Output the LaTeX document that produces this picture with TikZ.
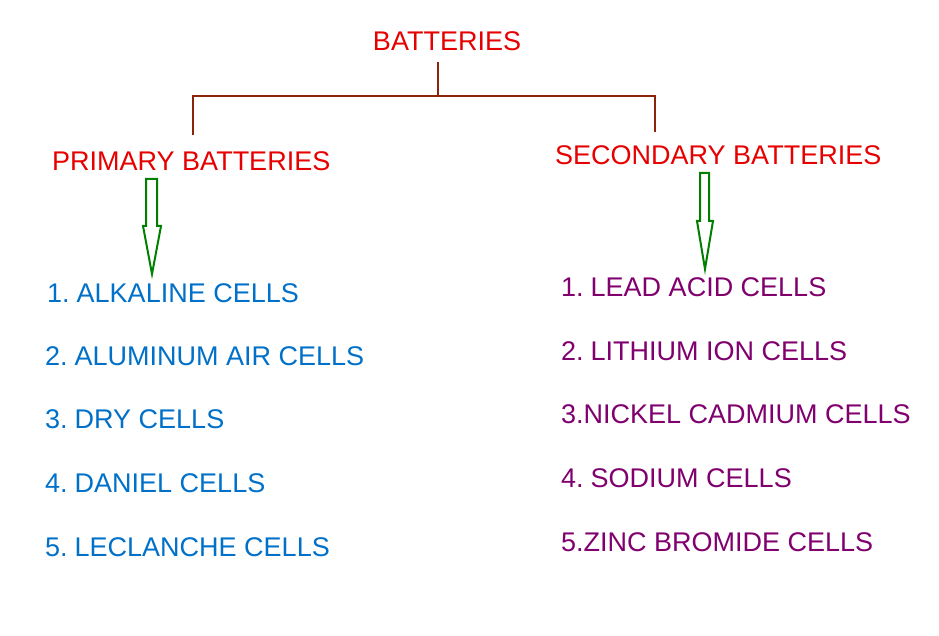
\documentclass[tikz,border=0pt]{standalone}
\usepackage{fontspec}
\setmainfont{Liberation Sans}
\begin{document}
\begin{tikzpicture}[x=1pt,y=-1pt,
  lbl/.style={anchor=west,inner sep=0pt,font=\fontsize{27}{30}\selectfont},
  head/.style={lbl,text={rgb,255:red,230;green,0;blue,0}},
  pri/.style={lbl,text={rgb,255:red,0;green,112;blue,200}},
  sec/.style={lbl,text={rgb,255:red,128;green,0;blue,110}},
  br/.style={draw={rgb,255:red,140;green,35;blue,10},line width=2.6pt},
  harrow/.style={draw={rgb,255:red,0;green,128;blue,0},line width=2pt,fill=white}]
\useasboundingbox (0,0) rectangle (939,636);
\node[head,anchor=center] (top) at (447,41) {BATTERIES};
\node[head] (prim) at (52,161) {PRIMARY BATTERIES};
\node[head] (secd) at (555,155) {SECONDARY BATTERIES};
\coordinate (s) at (438,62);
\coordinate (m) at (438,96);
\draw[br] (s) -- (m);
\draw[br] (193,135) -- (193,96) -- (655,96) -- (655,132);
% hollow arrows
\draw[harrow] (146,179) -- (157,179) -- (157,226) -- (161,226) -- (152,274) -- (143,226) -- (146,226) -- cycle;
\draw[harrow] (700,173) -- (709,173) -- (709,221) -- (713,221) -- (705,269) -- (697,221) -- (700,221) -- cycle;
\node[pri] (p1) at (47,293) {1.\hspace{7pt}ALKALINE CELLS};
\node[pri] (p2) at (45,356) {2.\hspace{7pt}ALUMINUM AIR CELLS};
\node[pri] (p3) at (45,419) {3.\hspace{7pt}DRY CELLS};
\node[pri] (p4) at (45,483) {4.\hspace{7pt}DANIEL CELLS};
\node[pri] (p5) at (45,547) {5.\hspace{7pt}LECLANCHE CELLS};
\node[sec] (s1) at (561,287) {1.\hspace{7pt}LEAD ACID CELLS};
\node[sec] (s2) at (561,351) {2.\hspace{7pt}LITHIUM ION CELLS};
\node[sec] (s3) at (561,414) {3.NICKEL CADMIUM CELLS};
\node[sec] (s4) at (561,478) {4.\hspace{7pt}SODIUM CELLS};
\node[sec] (s5) at (561,542) {5.ZINC BROMIDE CELLS};
\end{tikzpicture}
\end{document}
